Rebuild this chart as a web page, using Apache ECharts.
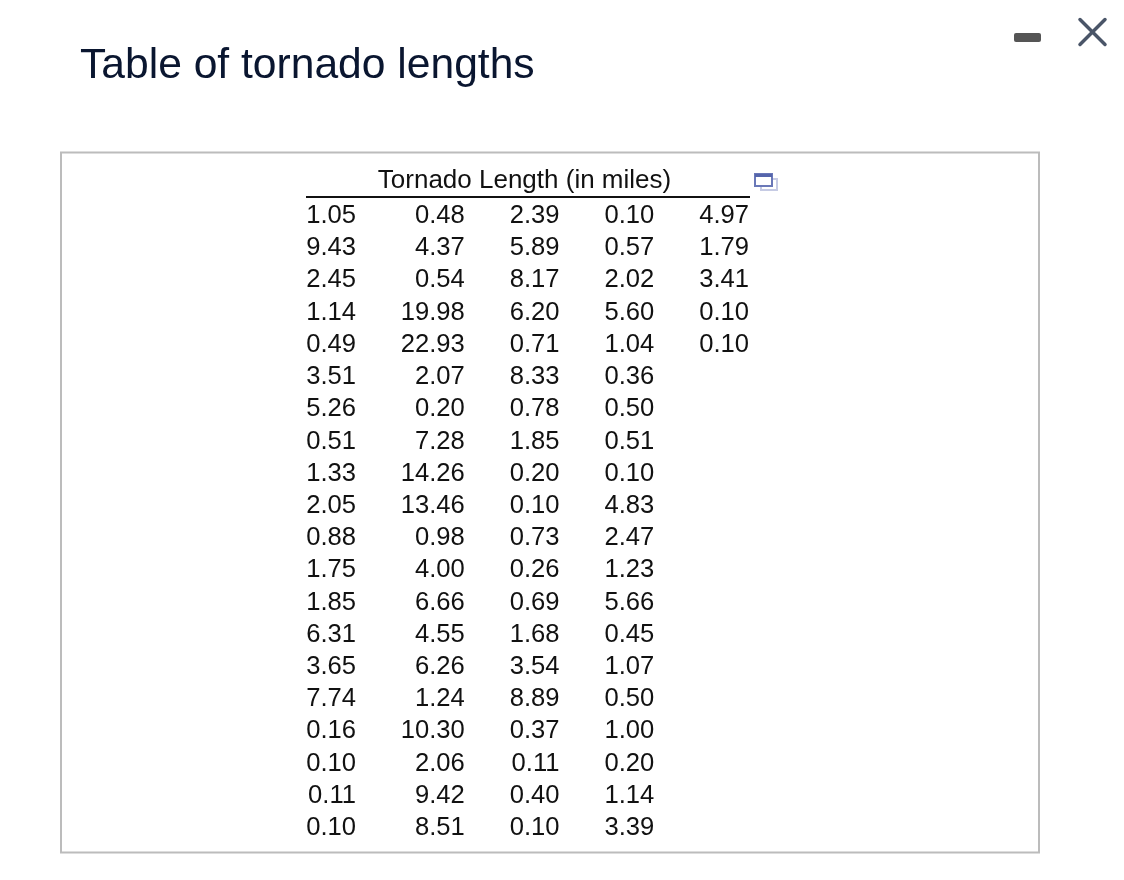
<!DOCTYPE html>
<html><head><meta charset="utf-8">
<style>html,body{margin:0;padding:0;background:#fff}#c{width:1124px;height:880px}</style>
<script src="https://cdn.jsdelivr.net/npm/echarts@6/dist/echarts.min.js"></script>
</head><body><div id="c"></div>
<script>
const titleText = 'Table of tornado lengths';
const headerText = 'Tornado Length (in miles)';
const col1 = ['1.05','9.43','2.45','1.14','0.49','3.51','5.26','0.51','1.33','2.05','0.88','1.75','1.85','6.31','3.65','7.74','0.16','0.10','0.11','0.10'];
const col2 = ['0.48','4.37','0.54','19.98','22.93','2.07','0.20','7.28','14.26','13.46','0.98','4.00','6.66','4.55','6.26','1.24','10.30','2.06','9.42','8.51'];
const col3 = ['2.39','5.89','8.17','6.20','0.71','8.33','0.78','1.85','0.20','0.10','0.73','0.26','0.69','1.68','3.54','8.89','0.37','0.11','0.40','0.10'];
const col4 = ['0.10','0.57','2.02','5.60','1.04','0.36','0.50','0.51','0.10','4.83','2.47','1.23','5.66','0.45','1.07','0.50','1.00','0.20','1.14','3.39'];
const col5 = ['4.97','1.79','3.41','0.10','0.10'];
const columns = [col1, col2, col3, col4, col5];
const colNames = ['c1','c2','c3','c4','c5'];
const rowNames = col1.map((_, i) => 'r' + i);

const chart = echarts.init(document.getElementById('c'), null, {renderer:'canvas'});
const cellFont = {fontFamily:'"Liberation Sans",Arial,sans-serif', fontSize:25.6, color:'#111'};
chart.setOption({
  animation:false,
  backgroundColor:'#fff',
  title:{text:titleText, left:75, top:40, textStyle:{fontFamily:'"Liberation Sans",Arial,sans-serif', fontWeight:400, fontSize:42.6, color:'#0a1630'}},
  grid:{left:322.6, top:199.9, width:473.75, height:644.2},
  xAxis:{type:'category', data:colNames, show:false},
  yAxis:{type:'category', data:rowNames, inverse:true, show:false},
  series: columns.map((col, k) => ({
    type:'scatter', symbolSize:0, silent:true, itemStyle:{opacity:1},
    data: col.map((v, i) => ({value:[colNames[k], rowNames[i]], text:v})),
    label:{show:true, position:'inside', align:'right', verticalAlign:'middle',
      offset:[k === 0 ? -14 : 0, 0], formatter:p => p.data.text, ...cellFont}
  })),
  graphic:[
    {type:'rect', shape:{x:61,y:152.5,width:978,height:700}, style:{fill:'none',stroke:'#bcbcbc',lineWidth:2}},
    {type:'text', x:524.5, y:181, style:{text:headerText, align:'center', verticalAlign:'middle', font:'26px "Liberation Sans",Arial,sans-serif', fill:'#111'}},
    {type:'line', shape:{x1:306,y1:197,x2:750,y2:197}, style:{stroke:'#111',lineWidth:2}},
    {type:'rect', shape:{x:761,y:179,width:16,height:11}, style:{fill:'#fff',stroke:'#c6cbe4',lineWidth:2}},
    {type:'rect', shape:{x:755,y:174,width:17,height:12}, style:{fill:'#fff',stroke:'#6a78b8',lineWidth:2}},
    {type:'line', shape:{x1:755,y1:175.5,x2:772,y2:175.5}, style:{stroke:'#5565ab',lineWidth:3}},
    {type:'rect', shape:{x:1014,y:33,width:27,height:9,r:2}, style:{fill:'#555'}},
    {type:'line', shape:{x1:1080,y1:19.5,x2:1105,y2:44.5}, style:{stroke:'#4a5568',lineWidth:3.5,lineCap:'round'}},
    {type:'line', shape:{x1:1105,y1:19.5,x2:1080,y2:44.5}, style:{stroke:'#4a5568',lineWidth:3.5,lineCap:'round'}}
  ]
});
</script></body></html>
